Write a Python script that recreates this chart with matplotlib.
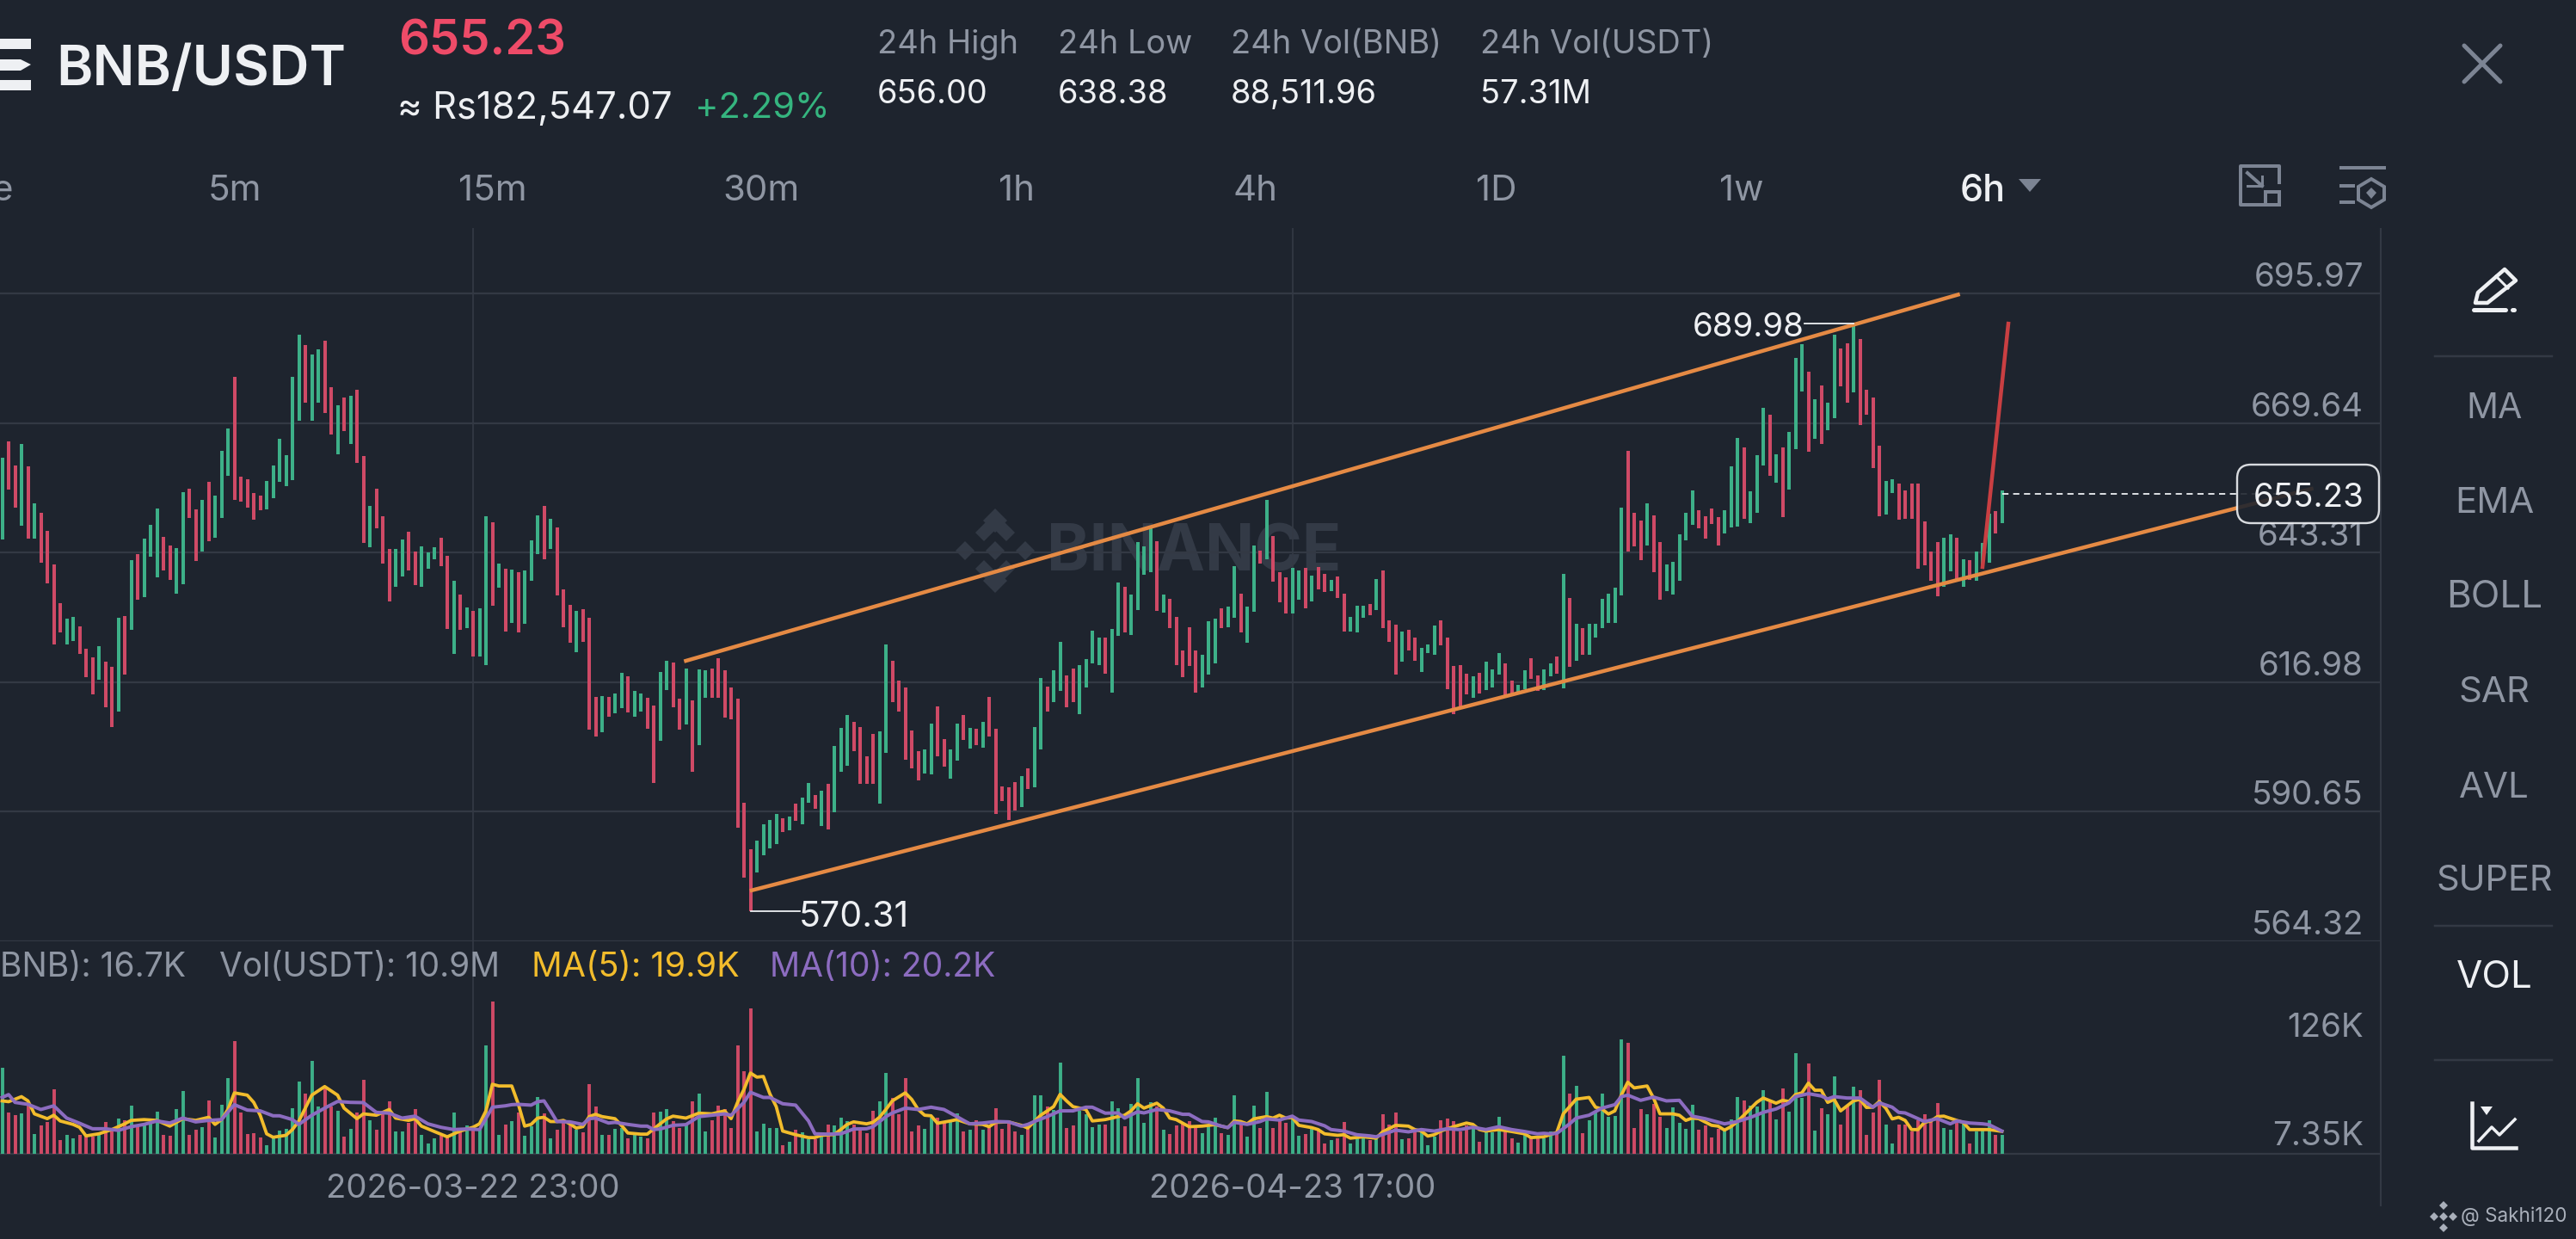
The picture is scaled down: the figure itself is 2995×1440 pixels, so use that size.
import matplotlib
matplotlib.use("Agg")
import matplotlib.pyplot as plt
from matplotlib.patches import Rectangle, Polygon, FancyBboxPatch

plt.rcParams['font.family'] = ['Inter', 'DejaVu Sans']

W, H = 2995, 1440
BG = '#1E242E'
GRID = '#333944'
RED = '#CF4A66'
GREEN = '#3DB088'
TXT = '#8F96A3'
WHITE = '#EEF0F3'
ORANGE = '#E58A44'
YELLOW = '#F2BC2C'
PURPLE = '#8C6CC0'

# candles, oldest first
high = [662.7,666.0,661.0,665.4,660.8,653.3,651.5,647.8,640.9,633.0,
        629.8,630.2,628.3,623.8,622.0,624.3,621.2,620.1,630.0,630.4,
        641.7,643.0,646.2,649.0,652.3,646.5,644.8,644.3,655.7,656.3,
        652.2,654.0,657.7,654.9,664.0,668.6,679.0,658.8,658.2,655.5,
        654.9,657.9,661.1,666.5,663.2,679.0,687.7,685.5,683.6,684.6,
        686.5,676.9,673.3,674.8,675.2,676.4,662.9,652.9,656.3,650.8,
        644.0,644.0,646.0,647.6,643.5,644.5,643.3,644.4,646.3,642.7,
        637.6,634.7,632.2,631.5,632.0,650.8,649.5,641.1,640.1,639.8,
        639.3,639.7,645.8,650.9,652.8,650.2,648.4,635.9,632.6,631.5,
        631.8,630.0,614.0,614.1,614.0,614.6,618.9,618.1,615.2,614.6,
        613.7,612.2,619.0,621.3,620.9,613.6,619.7,613.3,619.6,619.3,
        619.8,621.8,619.4,615.9,613.6,592.4,582.9,584.7,588.1,589.0,
        590.2,589.2,589.7,592.2,593.4,596.5,594.0,594.9,596.3,603.9,
        607.6,610.2,608.9,607.9,601.9,606.4,607.0,624.6,621.3,617.3,
        615.8,607.2,603.0,603.3,608.6,612.0,605.4,603.3,608.6,610.2,
        607.7,607.4,608.8,613.9,607.4,595.8,595.6,596.7,597.9,599.5,
        607.9,617.8,616.1,619.3,625.2,618.3,619.8,620.5,621.6,627.5,
        626.1,626.0,627.8,637.2,636.3,634.8,645.5,644.6,648.3,645.7,
        634.8,633.9,630.3,623.4,628.2,623.4,622.6,629.3,629.9,632.0,
        632.3,640.6,635.0,632.3,644.7,643.7,654.1,646.7,639.4,638.2,
        640.2,639.7,640.2,638.7,640.4,638.9,637.7,638.4,635.0,630.3,
        632.5,632.5,632.9,638.0,639.7,629.6,628.6,627.3,627.6,626.0,
        623.9,624.6,628.4,629.6,626.0,620.3,620.5,618.7,618.1,618.9,
        621.2,619.6,622.8,620.7,617.2,616.4,619.3,621.8,618.4,619.6,
        620.7,622.2,638.9,634.1,628.8,628.0,628.9,628.9,633.9,634.9,
        636.1,652.5,664.1,651.4,649.8,653.4,650.9,645.5,640.9,641.5,
        647.0,651.4,655.9,651.9,650.7,652.3,650.5,651.9,660.9,666.6,
        664.8,655.8,663.2,672.8,671.4,663.4,664.7,667.9,682.9,685.7,
        680.2,674.6,677.4,673.9,687.6,684.9,685.9,689.98,686.7,676.5,
        674.8,665.0,657.9,658.2,657.4,655.9,657.4,657.4,649.6,643.6,
        645.5,646.3,647.0,646.3,642.0,641.7,643.5,645.2,651.2,651.7,655.9]
low = [646.0,656.1,652.4,648.8,646.2,646.2,641.3,637.1,624.7,627.0,
       624.7,625.4,622.7,617.9,614.4,617.5,611.8,607.8,611.0,618.5,
       627.6,633.8,634.3,642.4,638.3,639.6,637.7,635.0,636.8,650.4,
       641.6,643.6,645.6,646.4,650.3,658.9,654.0,653.7,652.5,650.1,
       651.9,652.2,654.4,657.8,656.9,658.1,670.2,673.8,670.1,673.8,
       671.8,667.3,663.4,668.1,665.4,661.6,645.3,644.4,648.3,641.1,
       633.4,636.3,638.5,639.7,636.7,636.4,640.1,642.0,640.6,627.8,
       622.7,627.6,628.0,622.2,622.1,620.5,632.5,636.1,627.2,629.0,
       627.0,628.8,637.5,643.0,642.0,644.0,634.6,628.2,624.9,623.1,
       625.1,607.3,605.9,606.7,610.0,610.6,611.6,610.8,610.0,611.0,
       607.5,596.5,605.1,615.4,611.8,607.3,608.3,598.7,604.2,613.8,
       613.8,613.7,609.8,609.4,587.3,577.2,570.31,578.3,581.8,583.1,
       584.0,586.5,586.9,588.8,588.0,592.4,591.2,587.7,587.0,590.5,
       598.7,600.0,602.9,596.2,596.2,596.3,592.2,602.5,612.9,610.9,
       601.2,599.4,596.9,598.4,598.2,601.9,599.7,597.4,601.0,605.2,
       603.4,604.1,603.7,605.9,590.2,592.8,589.0,590.8,591.6,595.2,
       595.5,603.2,610.9,612.9,615.1,611.9,612.9,610.4,615.9,620.8,
       620.4,618.7,614.9,626.4,627.1,626.6,631.7,638.8,639.4,631.5,
       631.1,628.0,620.5,617.9,620.3,614.9,615.9,618.5,620.8,628.0,
       628.2,630.0,627.0,625.0,631.2,641.0,642.0,637.4,633.2,630.9,
       631.0,633.7,632.0,633.3,635.9,635.3,635.5,634.1,627.3,627.2,
       627.0,630.0,630.5,631.6,628.0,625.1,618.5,621.1,623.4,621.3,
       619.0,622.9,622.6,624.5,615.5,610.4,611.7,614.4,613.7,614.7,
       615.4,615.9,618.5,614.2,614.4,615.0,615.5,617.7,615.2,615.4,
       618.1,618.7,615.7,620.1,621.3,622.6,622.6,626.0,627.9,629.0,
       629.0,634.6,643.6,644.5,641.7,644.8,639.3,633.7,635.5,634.8,
       637.6,645.8,649.0,648.3,646.2,649.2,644.8,647.3,648.5,648.7,
       650.2,649.4,651.5,661.0,659.0,657.5,650.5,656.2,664.4,676.1,
       663.8,666.4,665.4,668.3,670.6,677.2,673.8,676.0,669.2,671.3,
       660.6,650.8,651.1,655.5,650.0,650.2,650.2,640.0,640.8,637.6,
       634.4,636.3,639.5,638.0,636.3,637.8,637.6,640.8,641.3,647.2,649.4]
# G = up candle, R = down candle (same colour on the volume bar)
updown = ("GRRGRGRRRR" "GGRRRGRRGR" "GRGGGRRGGR" "RGRGGGRRRR" "RGGGGGGRGG"
          "RRGRGRRGRR" "RGGRRGGGRR" "GRGRGGRGRG" "RGGGRGRRRG" "RRRGRGGRGG"
          "RRGGRRGRGG" "RRRRRRRGGG" "GRGRGGRGRG" "GGRRRRGGRR" "RRRGGRRGGR"
          "GRGRRRRRGR" "GGRGGRRGGG" "GRGGRGGGGR" "GRRRRRGGGR" "GGRGGRGRRR"
          "GGRGRRGRRG" "GGRGRRRGRR" "GGGRRRRRGR" "GGGRRGGRRG" "GRGRGRGGGG"
          "GGRRRGRRGG" "GGGRRRRGGG" "RGGGRGRGGG" "RGRGGRRGRR" "RRGGRRRRRR"
          "RGGRGRGGGRG")
# volume in thousands of BNB
volume = [75.2,36.5,34,35.8,44,17.5,25,27.8,56.5,12.2,
          16.5,13.5,17,17.8,15.2,16.5,27.8,21.5,31,29.5,
          42.5,24,25.2,26.5,37,17.2,15.8,39,54.8,17.2,
          21.5,23.8,47.2,14.8,42.8,66,98.5,36.5,17.8,18.5,
          14.8,8,15.2,20.5,22.2,39.8,63.5,52.5,81,41.5,
          57.8,41.5,38.2,15,21.8,36,64.8,29.5,21,36.5,
          46.2,20,19.5,27,39,16.5,9,13.8,16,14.5,
          36,20.2,25.2,21.5,22.8,95,133,16.5,25.5,29.2,
          36,15.8,24,50,35.8,13.5,21.2,29.5,26.5,21.5,
          19,61,41.5,17.2,16.5,21.8,22.8,13.5,16.5,15,
          14,36,37.2,39.5,29,22.8,26.5,46,52.5,20.2,
          29.5,42.2,39.5,22.5,94.5,72.2,126.8,19.5,26.5,23,
          23,7.8,10.5,21.5,19,12.8,12.8,16.5,26.2,24.8,
          31.8,29,26,21.5,18.2,37.5,46.2,70.5,49,35.2,
          66.2,20,25,22.2,31.5,32,27.8,27.8,35.5,20.2,
          21.5,29.5,21.2,25.2,40.2,22,26.5,19.8,17.2,22,
          51.2,51.2,41.5,38.5,79.5,22.8,24.8,37.8,35.2,23.5,
          25.8,26.2,46.2,40.2,24.5,44.2,66,27.2,45.5,41.5,
          21.5,17.5,25.2,26.5,28.5,24.5,18,25.2,31.5,18.5,
          16.5,51,26.5,15.2,42.2,23.2,54,22.8,29,27,
          33.5,16,17.8,22.8,21.5,9,12,14,28,9,
          14,15.2,12.5,12.8,35.2,25.5,36,13,13.8,21.5,
          20.2,8.2,15.2,29.5,30.8,28.5,20,25.2,22.8,10.5,
          19.8,19,32.8,20.2,13.5,9.8,17.2,14,13.5,14,
          20.2,17.8,86.2,53.2,59.5,18.2,29.8,37.8,52.5,32.8,
          33.2,100,97.2,23,39.5,34.8,44,32.8,23,41.2,
          27.2,21.8,43,21.2,24.8,14.5,22.2,21.5,30.5,49.8,
          47,42.2,41.5,56,45.2,30,57,37,87.8,49,
          79,20.5,39.8,34.8,67.8,25.8,41.5,58.8,55.5,16.5,
          36.5,65.2,25.8,9,25.5,25.5,19.8,29.5,34.8,28.5,
          44.5,22.8,21.5,27.8,27,9,19.5,21.5,29.5,17,16.7]
# moving average lines: candle number, value in K
ma5_i = [0,1,3,4,5,7,8,9,11,12,13,15,17,19,20,22,24,26,28,30,32,33,34,35,36,38,39,40,41,42,44,45,46,48,50,52,53,55,56,58,60,61,63,64,65,67,69,71,73,74,75,76,77,79,
         80,81,82,83,84,85,86,87,88,89,90,91,92,93,95,96,97,99,100,101,102,103,104,106,108,110,112,113,114,115,116,117,118,119,120,121,123,125,126,127,129,130,131,132,134,135,136,137,138,140,141,142,143,144,145,147,148,150,152,153,154,156,158,159,
         160,161,163,164,165,166,167,168,169,171,173,174,175,176,177,179,180,181,182,184,186,188,189,190,191,192,193,194,196,197,198,199,200,201,203,204,205,207,208,209,211,213,214,216,218,219,220,221,222,223,225,227,228,229,230,232,234,236,237,239,
         240,241,242,243,244,246,247,248,249,250,251,252,253,255,256,257,259,260,261,262,263,265,266,267,268,269,270,272,273,275,276,277,278,279,280,281,282,283,284,285,287,288,289,290,291,292,293,294,295,296,297,298,299,300,301,303,304,305,308,310]
ma5_v = [46.5,45.8,50.2,46.5,35.2,31,34,29,26,23.5,16,17.8,21.5,26.5,29.5,30.2,29.5,24.5,31,29.5,32.2,26,30.2,39,53.5,51.5,45.2,34,17.8,14.8,16.5,21.5,29,51.5,59,51.5,40.2,31,35.2,34,39,31.5,29.5,31,24.5,19.8,15.2,20.2,23.5,26.5,37.8,61,59.5,59.5,
         44,24.5,26,31.5,32.2,28.5,28.5,29.5,26.5,22.8,24,32.8,34.8,32.8,31,25.2,18.5,17.5,17.5,22,26.5,30.8,33.2,31.5,35.8,35.2,37.8,31,45.2,56.5,70.8,67.2,67.8,52.8,41.5,20.2,17,14.5,14.5,16.5,17.2,21.5,26,28.2,26.5,27.8,32.2,39,46.5,53.5,47.8,39,34,33.5,27,29,30.2,26.5,26,24,27.8,28.2,25.2,22.8,
         28.5,34,41.5,52.2,46.5,41.5,40.2,39,29,30.2,32.8,34,37.8,44,40.2,44.5,40.2,31.5,30.2,24,24.5,25.8,24.5,23.2,29,28.5,26.5,30.8,32.8,31.5,34,31.5,32,25.2,23.2,21.5,17.8,16.5,17,14,15.2,14,19.5,25.2,24.5,21.5,20.2,15.8,17,20.2,24,27.2,26,21.5,20.2,21.5,19.8,17.8,14.5,15.2,
         17.2,19,35.2,41.5,48,49.5,41,39.5,35,37.8,51.5,62.8,57.8,59.5,49,35.2,35.2,34,29.5,31.5,31,25.2,24.5,21,24,28.5,34,45.2,49,44.5,47,46,52,53.5,62,55.8,55.8,45.2,47.8,37.8,46.5,47.8,40.8,41,46,40.2,30.8,32.2,29.5,21.5,21.5,27.8,29,32.8,33.2,29.5,27.8,21.5,21.5,19.9]
ma10_i = [0,1,2,4,6,8,10,12,14,16,18,20,22,24,26,28,30,32,34,36,38,40,42,43,45,46,48,50,52,54,56,58,60,62,64,66,68,70,72,74,76,78,79,
          80,82,83,84,85,86,88,90,91,92,94,95,97,99,100,101,102,104,106,108,110,112,113,115,116,118,119,121,123,125,126,128,130,132,134,135,137,138,140,142,144,146,148,150,152,154,156,158,159,
          160,162,164,166,168,169,171,173,174,176,177,179,181,183,184,186,187,189,190,191,193,195,196,198,200,201,203,205,206,208,210,212,213,214,216,218,220,222,224,226,228,230,232,234,236,238,239,
          240,241,243,244,246,248,250,251,252,254,256,258,260,262,264,267,269,271,273,275,277,278,280,282,283,284,286,288,290,291,293,294,295,298,300,302,303,305,307,308,310]
ma10_v = [49.5,52,45.2,43.5,39,42.2,31.5,27,22.2,22.2,20.8,24,26,29,27.2,31.5,28.2,29.5,30.2,43.2,38.5,37.8,33.5,33.5,30.2,26,34,40.2,46,45.2,45,36.5,35.8,31.5,33.2,26.5,23.5,21.5,22,21.5,41,42.2,43.2,
          43.5,42.8,45.8,46.5,37.8,28.5,28.2,26,31,31.5,27.2,27.8,26,24.5,24.5,21.5,22,25.2,25.8,32.8,34,35.2,34,45.2,54,49.5,49.5,44,42.8,29,17.8,17.5,17.8,22,22.2,24,32.8,36,40.2,39,41,39,32.8,26.5,27.2,28.5,28.2,24.5,26,
          28.5,32.8,37.8,37.8,41,41,35.8,36,31.5,37,36,39,37.8,34.8,34.8,28.5,28.2,24.5,23.2,27.8,26,28.5,30.8,29.8,33.2,29.8,28.5,24.8,21.5,20.2,17,16,15.2,17.2,21,19.5,21.5,20.2,22.2,21.5,23.5,21.5,24,21.5,19.8,17.8,18.2,
          17.8,18.2,26.5,31.5,34,40.2,43.2,50.2,51.5,47,49.8,46.5,47,33.2,31,26.5,28.5,32,36.5,39.5,44.8,50.2,52.8,50.8,48.2,50.2,49,49,41,44.8,41,36.5,36,28.5,31,26.5,29,27.2,26.5,25.8,20.2]

price_ticks = [695.97, 669.64, 643.31, 616.98, 590.65, 564.32]
price_labels = ['695.97', '669.64', '643.31', '616.98', '590.65', '564.32']
time_ticks = [73, 200]
time_labels = ['2026-03-22 23:00', '2026-04-23 17:00']
upper_x, upper_y = [106, 303.2], [621.3, 695.8]
lower_x, lower_y = [116.2, 358], [574.6, 656.3]
red_x, red_y = [307, 311], [640.4, 689.9]
last_price = 655.23

fig = plt.figure(figsize=(W / 100, H / 100), dpi=100, facecolor=BG)


def px_axes(left, top, right, bottom, z):
    a = fig.add_axes([left / W, 1 - bottom / H, (right - left) / W, (bottom - top) / H], zorder=z)
    a.patch.set_alpha(0)
    for s in a.spines.values():
        s.set_visible(False)
    a.set_xticks([])
    a.set_yticks([])
    return a


def fs(px):
    return px * 0.72


ui = px_axes(0, 0, W, H, 0)
ui.set_xlim(0, W)
ui.set_ylim(H, 0)
top = px_axes(0, 0, W, H, 5)
top.set_xlim(0, W)
top.set_ylim(H, 0)


def put(x, y, s, color, size, ha='left', **kw):
    # Inter sits a little high with va=center, hence the 4 px
    top.text(x, y + 4, s, color=color, fontsize=fs(size), ha=ha, va='center', **kw)


# x axis shared by both panels: candle number, 7.5 px apart
xlim = ((0 - 2.5) / 7.5, (2769 - 2.5) / 7.5)
ax = px_axes(0, 265, 2769, 1093.5, 2)
ax.set_xlim(*xlim)
ax.set_ylim(564.32, 709.36)
axv = px_axes(0, 1093.5, 2769, 1402, 2)
axv.set_xlim(*xlim)
axv.set_ylim(-45.4, 186)

# watermark under the candles
ui.text(1388, 644, 'BINANCE', color='#333A46', fontsize=fs(75), fontweight='bold', ha='center', va='center')
for cx, cy, r in [(1157, 640, 11), (1157, 605, 14), (1157, 675, 14), (1122, 640, 11), (1192, 640, 11)]:
    ui.add_patch(Polygon([(cx - r, cy), (cx, cy - r), (cx + r, cy), (cx, cy + r)], color='#333A46', lw=0))
ui.add_patch(Polygon([(1157, 596), (1180, 619), (1170, 629), (1157, 616), (1144, 629), (1134, 619)], color='#333A46', lw=0))
ui.add_patch(Polygon([(1157, 684), (1180, 661), (1170, 651), (1157, 664), (1144, 651), (1134, 661)], color='#333A46', lw=0))

# grid
for p in price_ticks:
    ax.axhline(p, color=GRID, lw=1.6, zorder=1)
axv.axhline(0, color=GRID, lw=1.6, zorder=1)
for t in time_ticks:
    ax.axvline(t, color=GRID, lw=1.3, zorder=1)
    axv.plot([t, t], [0, 186], color=GRID, lw=1.3, zorder=1)
ax.axvline(xlim[1], color=GRID, lw=3, zorder=1)
axv.axvline(xlim[1], color=GRID, lw=3, zorder=1)

# candles
xs = list(range(len(high)))
colors = [GREEN if c == 'G' else RED for c in updown]
ax.vlines(xs, low, high, colors=colors, linewidths=fs(4), zorder=3)
axv.vlines(xs, 0, volume, colors=colors, linewidths=fs(3.9), zorder=3)
axv.plot(ma5_i, ma5_v, color=YELLOW, lw=fs(3.8), zorder=4, solid_joinstyle='round')
axv.plot(ma10_i, ma10_v, color=PURPLE, lw=fs(4), zorder=5, solid_joinstyle='round')

# drawn trend lines
ax.plot(upper_x, upper_y, color=ORANGE, lw=fs(4.5), zorder=4)
ax.plot(lower_x, lower_y, color=ORANGE, lw=fs(4.5), zorder=4)
ax.plot(red_x, red_y, color='#C93F42', lw=fs(4.5), zorder=4)
ax.plot([310, 357.5], [last_price, last_price], color=WHITE, lw=fs(1.8), ls=(0, (4, 3)), zorder=4)

# high and low marks
ax.plot([287, 279.4], [689.98, 689.98], color=WHITE, lw=fs(1.8), zorder=4)
ax.annotate('689.98', xy=(279.3, 689.98), xytext=(0, -5), textcoords='offset pixels', color=WHITE,
            fontsize=fs(38.5), ha='right', va='center', zorder=6)
ax.plot([116, 123.7], [570.31, 570.31], color=WHITE, lw=fs(1.8), zorder=4)
ax.annotate('570.31', xy=(123.7, 570.31), xytext=(-2, -7), textcoords='offset pixels', color=WHITE,
            fontsize=fs(41), ha='left', va='center', zorder=6)

# price axis labels sit above their grid lines
for p, s in zip(price_ticks, price_labels):
    ax.annotate(s, xy=(2748 / 2769, p), xycoords=ax.get_yaxis_transform(), xytext=(0, 18),
                textcoords='offset pixels', color=TXT, fontsize=fs(38.5), ha='right', va='center', zorder=6)
put(2748, 1191, '126K', TXT, 38.5, ha='right')
put(2748, 1317, '7.35K', TXT, 38.5, ha='right')

# time labels
for t, s in zip(time_ticks, time_labels):
    axv.annotate(s, xy=(t, 0), xycoords='data', xytext=(0, -41), textcoords='offset pixels',
                 color=TXT, fontsize=fs(38.3), ha='center', va='center', annotation_clip=False)

# current price tag
top.add_patch(FancyBboxPatch((2615, 554), 137, 40, boxstyle='round,pad=14,rounding_size=16',
                             fc=BG, ec=WHITE, lw=fs(2.4), alpha=0.9))
put(2684, 575, '655.23', WHITE, 38.5, ha='center')

# header
put(65, 78, 'BNB/USDT', WHITE, 64.5, fontweight='semibold')
put(463, 45, '655.23', '#EE4B68', 56, fontweight='semibold')
put(462, 122, '≈ Rs182,547.07', WHITE, 43.5)
put(808, 122, '+2.29%', '#35B57F', 41.5)
for x, a, b in [(1020, '24h High', '656.00'), (1230, '24h Low', '638.38'),
                (1431, '24h Vol(BNB)', '88,511.96'), (1721, '24h Vol(USDT)', '57.31M')]:
    put(x, 48, a, TXT, 38)
    put(x, 106, b, WHITE, 38)
for y0, y1 in [(45, 57), (93, 105)]:
    top.add_patch(Rectangle((0, y0), 36, y1 - y0, color=WHITE, lw=0))
top.add_patch(Polygon([(0, 69), (24, 69), (36, 75), (24, 82), (0, 82)], color=WHITE, lw=0))

# interval tabs
put(15, 218, 'e', TXT, 42, ha='right')
for x, s in [(273, '5m'), (573, '15m'), (885, '30m'), (1182, '1h'), (1459, '4h'), (1740, '1D'), (2025, '1w')]:
    put(x, 218, s, TXT, 42, ha='center')
put(2305, 218, '6h', WHITE, 43, ha='center', fontweight='medium')
top.add_patch(Polygon([(2347, 208), (2373, 208), (2360, 223)], color='#7C8493', lw=0))

# legend row of the volume panel
put(216, 1120, 'Vol(BNB): 16.7K', TXT, 39, ha='right')
put(255, 1120, 'Vol(USDT): 10.9M', TXT, 38.7)
put(618, 1120, 'MA(5): 19.9K', YELLOW, 39.5)
put(895, 1120, 'MA(10): 20.2K', PURPLE, 39)

# sidebar
for s, y, c, sz in [('MA', 471, TXT, 41), ('EMA', 581, TXT, 42), ('BOLL', 691, TXT, 44), ('SAR', 801, TXT, 42),
                    ('AVL', 912, TXT, 42), ('SUPER', 1020, TXT, 41.5), ('VOL', 1133, WHITE, 44)]:
    put(2900, y, s, c, sz, ha='center')
for y in [414, 1076, 1232]:
    top.plot([2831, 2967], [y, y], color=GRID, lw=fs(2.5))

# close, window and settings icons
ic = '#7C8493'
top.plot([2865, 2907], [53, 95], color=ic, lw=fs(5), solid_capstyle='round')
top.plot([2865, 2907], [95, 53], color=ic, lw=fs(5), solid_capstyle='round')
top.plot([2630, 2605, 2605, 2625], [238, 238, 193, 193], color=ic, lw=fs(4), solid_joinstyle='round')
top.plot([2625, 2650, 2650], [193, 193, 212], color=ic, lw=fs(4))
top.add_patch(Rectangle((2634, 223), 16, 15, fc='none', ec=ic, lw=fs(4)))
top.plot([2613, 2630], [201, 216], color=ic, lw=fs(4))
top.plot([2613, 2630, 2630], [216, 216, 205], color=ic, lw=fs(3))
top.plot([2722, 2772], [195, 195], color=ic, lw=fs(4))
top.plot([2722, 2736], [216, 216], color=ic, lw=fs(4))
top.plot([2722, 2736], [235, 235], color=ic, lw=fs(4))
top.add_patch(Polygon([(2757, 208), (2772, 217), (2772, 232), (2757, 241), (2742, 232), (2742, 217)],
                      fc='none', ec=ic, lw=fs(4)))
top.add_patch(Polygon([(2757, 218), (2763, 224), (2757, 231), (2751, 224)], color=ic, lw=0))

# pencil icon
top.add_patch(Polygon([(2912, 313), (2925, 326), (2892, 352), (2878, 352), (2881, 340)],
                      fc='none', ec=WHITE, lw=fs(4.5), joinstyle='round'))
top.plot([2902, 2916], [321, 335], color=WHITE, lw=fs(3))
top.plot([2876, 2913], [360, 360], color=WHITE, lw=fs(5), solid_capstyle='round')
top.plot([2921, 2923], [360, 360], color=WHITE, lw=fs(5), solid_capstyle='round')

# chart icon at the bottom of the sidebar
top.plot([2874, 2874, 2925], [1282, 1334, 1334], color=WHITE, lw=fs(4.5))
top.plot([2882, 2897, 2906, 2924], [1326, 1310, 1319, 1301], color=WHITE, lw=fs(3.5))
top.add_patch(Polygon([(2884, 1286), (2898, 1286), (2891, 1296)], color=WHITE, lw=0))

# credit line
put(2861, 1410, '@ Sakhi120', '#A9AFBA', 22.5)
for cx, cy in [(2841, 1401), (2841, 1427), (2830, 1414), (2852, 1414), (2841, 1414)]:
    top.add_patch(Polygon([(cx - 5, cy), (cx, cy - 5), (cx + 5, cy), (cx, cy + 5)], color='#A9AFBA', lw=0))

fig.savefig('out.png', dpi=100, facecolor=BG)
